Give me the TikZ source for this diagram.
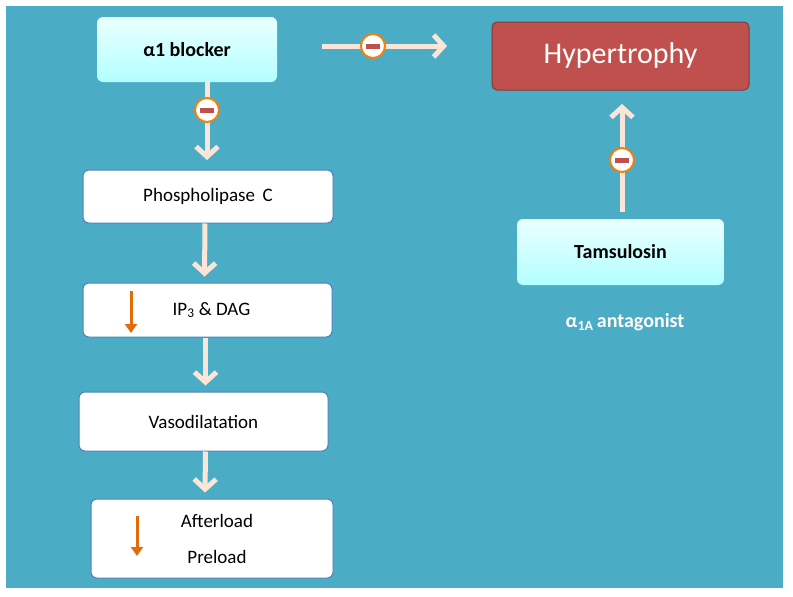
\documentclass[tikz,border=0pt]{standalone}
\usepackage{fontspec}
\setmainfont{Carlito}
\usetikzlibrary{arrows.meta}
\definecolor{bg}{HTML}{4BACC6}
\definecolor{cream}{HTML}{FBE5D6}
\definecolor{hyp}{HTML}{C0504D}
\definecolor{edge}{HTML}{4F81BD}
\definecolor{orng}{HTML}{E36C0A}
\begin{document}
\begin{tikzpicture}[x=1pt,y=-1pt,
  wbox/.style={draw=edge,line width=1pt,fill=white,rounded corners=6pt,align=center,font=\fontsize{19}{22}\selectfont},
  bbox/.style={draw=none,rounded corners=6pt,top color=cyan!8,bottom color=cyan!30!white,align=center,font=\bfseries\fontsize{20}{24}\selectfont},
  flow/.style={draw=cream,line width=5pt,-{Straight Barb[length=10pt,width=22pt,line width=5pt]}},
  minus/.style={circle,draw=orange!80!brown,line width=2pt,fill=white,minimum size=24pt,inner sep=0pt,
     path picture={\fill[hyp] ([xshift=-7pt,yshift=-2.5pt]path picture bounding box.center) rectangle ([xshift=7pt,yshift=2.5pt]path picture bounding box.center);}},
  down/.style={draw=orng,line width=3pt,-{Triangle[length=9pt,width=12pt]}}]
\useasboundingbox (0,0) rectangle (793,597);
\fill[white] (0,0) rectangle (793,597);
\fill[bg] (6,6) rectangle (783,588);
\node[bbox,minimum width=180pt,minimum height=65pt] (a) at (187,49.5) {α1 blocker};
\node[draw=hyp!70!black,line width=1pt,fill=hyp,rounded corners=5pt,minimum width=257pt,minimum height=68pt,text=white,font=\fontsize{30}{34}\selectfont] (h) at (620.5,56) {Hypertrophy};
\node[wbox,minimum width=250pt,minimum height=53pt] (p) at (208,196.5) {Phospholipase\, C};
\node[wbox,minimum width=249pt,minimum height=54pt] (ip) at (207.5,310) {\hspace{8pt}IP\textsubscript{3} \& DAG};
\node[wbox,minimum width=249pt,minimum height=59pt] (v) at (203.5,421.5) {Vasodilatation};
\node[wbox,minimum width=242pt,minimum height=79pt,font=\fontsize{19}{36}\selectfont] (af) at (212,538.5) {\hspace{10pt}Afterload\\\hspace{10pt}Preload};
\node[bbox,minimum width=207pt,minimum height=66pt] (t) at (620.5,252) {Tamsulosin};
\node[text=white,font=\bfseries\fontsize{20}{24}\selectfont] (lbl) at (625,322) {α\textsubscript{1A}\,antagonist};
\coordinate (hs) at (322,46); \coordinate (he) at (447,46);
\draw[flow] (hs) -- (he);
\node[minus] (m1) at (373,46) {};
\coordinate (vs) at (207,82); \coordinate (ve) at (207,160);
\draw[flow] (vs) -- (ve);
\node[minus] (m2) at (207,110) {};
\coordinate (ts) at (622,212); \coordinate (te) at (622,104);
\draw[flow] (ts) -- (te);
\node[minus] (m3) at (622,160) {};
\draw[flow] ([xshift=-3pt]p.south) -- ([xshift=-3pt,yshift=6pt]ip.north);
\draw[flow] ([xshift=-2pt]ip.south) -- ([xshift=2pt,yshift=6pt]v.north);
\draw[flow] ([xshift=2pt]v.south) -- ([xshift=-7pt,yshift=6pt]af.north);
\coordinate (d1s) at (131,291); \coordinate (d1e) at (131,333);
\draw[down] (d1s) -- (d1e);
\coordinate (d2s) at (137,516); \coordinate (d2e) at (137,556);
\draw[down] (d2s) -- (d2e);
\end{tikzpicture}
\end{document}
